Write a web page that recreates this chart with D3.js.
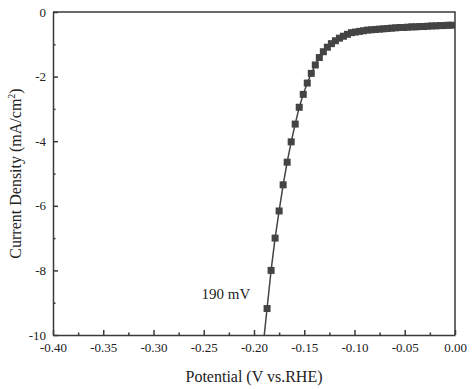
<!DOCTYPE html>
<html>
<head>
<meta charset="utf-8">
<script src="https://cdn.jsdelivr.net/npm/d3@7"></script>
<style>
  body { margin: 0; background: #fff; }
  text { font-family: "Liberation Serif", "Times New Roman", serif; fill: #222; }
</style>
</head>
<body>
<div id="chart"></div>
<script>
// potential (V vs. RHE), sampled every 4 mV
const potential = [
    -0.191, -0.187, -0.183, -0.179, -0.175, -0.171, -0.167, -0.163, -0.159, -0.155,
    -0.151, -0.147, -0.143, -0.139, -0.135, -0.131, -0.127, -0.123, -0.119, -0.115,
    -0.111, -0.107, -0.103, -0.099, -0.095, -0.091, -0.087, -0.083, -0.079, -0.075,
    -0.071, -0.067, -0.063, -0.059, -0.055, -0.051, -0.047, -0.043, -0.039, -0.035,
    -0.031, -0.027, -0.023, -0.019, -0.015, -0.011, -0.007, -0.003
];
// current density (mA/cm2)
const current = [
    -10.36, -9.18, -8.00, -7.00, -6.16, -5.35, -4.65, -4.02, -3.47, -2.95,
    -2.55, -2.20, -1.90, -1.64, -1.41, -1.23, -1.09, -0.98, -0.89, -0.81,
    -0.75, -0.69, -0.64, -0.62, -0.60, -0.58, -0.56, -0.55, -0.54, -0.53,
    -0.52, -0.51, -0.50, -0.49, -0.48, -0.48, -0.47, -0.46, -0.46, -0.45,
    -0.45, -0.44, -0.43, -0.43, -0.42, -0.42, -0.41, -0.41
];
const xTicks = [-0.40, -0.35, -0.30, -0.25, -0.20, -0.15, -0.10, -0.05, 0.00];
const yTicks = [0, -2, -4, -6, -8, -10];
const annotation = { x: -0.228, y: -8.9, label: "190 mV" };

const width = 474, height = 389;
const margin = { top: 12, right: 19, bottom: 54, left: 53 };
const ink = "#3a3a3a";

const data = potential.map((p, i) => ({ x: p, y: current[i] }));

const svg = d3.select("#chart").append("svg")
    .attr("width", width)
    .attr("height", height);

const xScale = d3.scaleLinear()
    .domain([-0.40, 0.00])
    .range([margin.left, width - margin.right]);

const yScale = d3.scaleLinear()
    .domain([-10, 0])
    .range([height - margin.bottom, margin.top]);

svg.append("clipPath").attr("id", "plot-clip")
    .append("rect")
    .attr("x", margin.left)
    .attr("y", margin.top)
    .attr("width", width - margin.left - margin.right)
    .attr("height", height - margin.top - margin.bottom);

// minor ticks every half step
const xMinor = d3.range(-0.375, 0, 0.05);
const yMinor = [-1, -3, -5, -7, -9];

// plain hyphen, like the original plot
const xAxis = d3.axisBottom(xScale)
    .tickValues(xTicks)
    .tickFormat(d => d.toFixed(2))
    .tickSize(-5)
    .tickSizeOuter(0)
    .tickPadding(8);

svg.append("g")
    .attr("transform", "translate(0," + (height - margin.bottom) + ")")
    .call(xAxis);

svg.append("g")
    .attr("transform", "translate(0," + (height - margin.bottom) + ")")
    .call(d3.axisBottom(xScale).tickValues(xMinor).tickSize(-2.5).tickSizeOuter(0).tickFormat(""))
    .call(g => g.select(".domain").remove());

const yAxis = d3.axisLeft(yScale)
    .tickValues(yTicks)
    .tickFormat(d => String(d))
    .tickSize(-5)
    .tickSizeOuter(0)
    .tickPadding(7);

svg.append("g")
    .attr("transform", "translate(" + margin.left + ",0)")
    .call(yAxis);

svg.append("g")
    .attr("transform", "translate(" + margin.left + ",0)")
    .call(d3.axisLeft(yScale).tickValues(yMinor).tickSize(-2.5).tickSizeOuter(0).tickFormat(""))
    .call(g => g.select(".domain").remove());

svg.selectAll(".tick line").attr("stroke", ink).attr("stroke-width", 1.5);
svg.selectAll(".domain").attr("stroke", ink).attr("stroke-width", 1.5);
svg.selectAll(".tick text")
    .style("font-family", "'Liberation Serif', serif")
    .style("font-size", "13px")
    .attr("fill", "#222");

// top and right frame
svg.append("path")
    .attr("fill", "none")
    .attr("stroke", ink)
    .attr("stroke-width", 1.5)
    .attr("d", "M" + margin.left + "," + margin.top +
        "H" + (width - margin.right) + "V" + (height - margin.bottom));

const plot = svg.append("g").attr("clip-path", "url(#plot-clip)");

const line = d3.line()
    .x(d => xScale(d.x))
    .y(d => yScale(d.y));

plot.append("path")
    .datum(data)
    .attr("fill", "none")
    .attr("stroke", "#444")
    .attr("stroke-width", 1.5)
    .attr("d", line);

const s = 7;
plot.selectAll(".dot")
    .data(data)
    .enter()
    .append("rect")
    .attr("class", "dot")
    .attr("x", d => xScale(d.x) - s / 2)
    .attr("y", d => yScale(d.y) - s / 2)
    .attr("width", s)
    .attr("height", s)
    .attr("fill", "#444");

svg.append("text")
    .attr("x", xScale(annotation.x))
    .attr("y", yScale(annotation.y))
    .attr("text-anchor", "middle")
    .style("font-size", "15px")
    .text(annotation.label);

// axis titles
svg.append("text")
    .attr("x", (margin.left + width - margin.right) / 2)
    .attr("y", height - 7)
    .attr("text-anchor", "middle")
    .style("font-size", "16px")
    .text("Potential (V vs.RHE)");

const yLabel = svg.append("text")
    .attr("transform", "translate(21," + ((margin.top + height - margin.bottom) / 2) + ") rotate(-90)")
    .attr("text-anchor", "middle")
    .style("font-size", "16px")
    .text("Current Density (mA/cm");
yLabel.append("tspan").attr("dy", -6).style("font-size", "10px").text("2");
yLabel.append("tspan").attr("dy", 6).text(")");
</script>
</body>
</html>
